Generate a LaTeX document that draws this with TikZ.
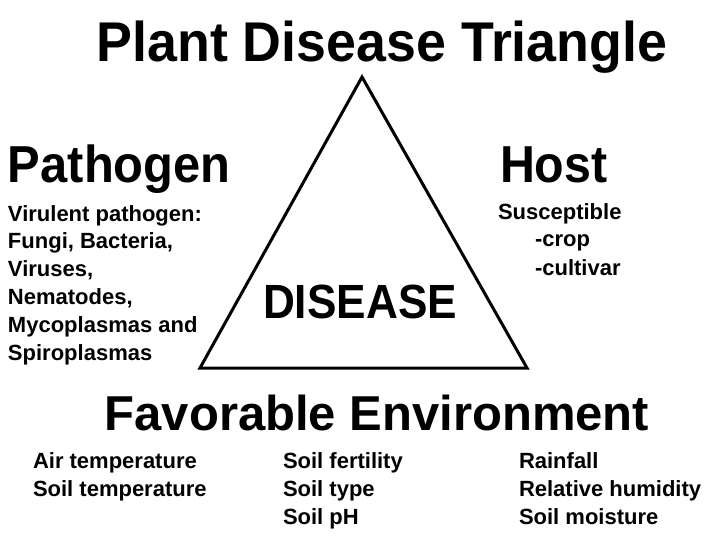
\documentclass[tikz,border=0pt]{standalone}
\usepackage{fontspec}
\setmainfont{Liberation Sans}
\begin{document}
\begin{tikzpicture}[x=1pt,y=-1pt,
  every node/.style={inner sep=0pt,outer sep=0pt,text=black},
  big/.style={font=\fontsize{#1}{#1}\selectfont\bfseries},
  small/.style={font=\fontsize{22}{27.8}\selectfont\bfseries,align=left,anchor=base west},
  tri/.style={draw=black,line width=3pt,line join=miter}]
\useasboundingbox (0,0) rectangle (720,540);
\fill[white] (0,0) rectangle (720,540);
% triangle
\coordinate (apex) at (362,77);
\coordinate (bl) at (200,368);
\coordinate (br) at (527,368);
\draw[tri] (apex) -- (br) -- (bl) -- cycle;
% title
\node[big=56,anchor=base,xscale=0.96] (title) at (382,62) {Plant Disease Triangle};
\node[big=52,anchor=base west,xscale=0.94] (path) at (8,183) {Pathogen};
\node[big=52,anchor=base west,xscale=0.93] (host) at (500,183) {Host};
\node[big=48,anchor=base,xscale=0.92] (dis) at (360,318) {DISEASE};
\node[big=49,anchor=base] (env) at (377,430) {Favorable Environment};
% pathogen list (anchor base = last line baseline)
\node[small] (plist) at (8,360) {Virulent pathogen:\\Fungi, Bacteria,\\Viruses,\\Nematodes,\\Mycoplasmas and\\Spiroplasmas};
% host list
\node[small] (h1) at (498,219) {Susceptible};
\node[small] (h2) at (535,247) {-crop};
\node[small] (h3) at (535,275) {-cultivar};
% environment columns
\node[small] (e1) at (33,496) {Air temperature\\Soil temperature};
\node[small] (e2) at (283,524) {Soil fertility\\Soil type\\Soil pH};
\node[small] (e3) at (519,524) {Rainfall\\Relative humidity\\Soil moisture};
\end{tikzpicture}
\end{document}
